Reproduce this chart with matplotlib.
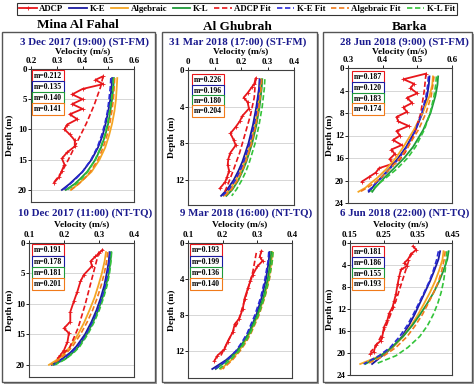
import matplotlib
matplotlib.use("Agg")
import matplotlib.pyplot as plt
from matplotlib.patches import Rectangle

plt.rcParams['font.family'] = ['Liberation Serif', 'DejaVu Serif']
plt.rcParams['font.weight'] = 'bold'

W, H = 474, 384

# ---------------- data ----------------
series_names = ["ADCP", "K-E", "Algebraic", "K-L", "ADCP Fit", "K-E Fit", "Algebraic Fit", "K-L Fit"]
column_titles = ["Mina Al Fahal", "Al Ghubrah", "Barka"]
panel_titles = ["3 Dec 2017 (19:00) (ST-FM)", "31 Mar 2018 (17:00) (ST-FM)", "28 Jun 2018 (9:00) (ST-FM)",
                "10 Dec 2017 (11:00) (NT-TQ)", "9 Mar 2018 (16:00) (NT-TQ)", "6 Jun 2018 (22:00) (NT-TQ)"]
m_values = [["0.212", "0.135", "0.140", "0.141"],
            ["0.226", "0.196", "0.180", "0.204"],
            ["0.187", "0.120", "0.183", "0.174"],
            ["0.191", "0.178", "0.181", "0.201"],
            ["0.193", "0.199", "0.136", "0.140"],
            ["0.181", "0.186", "0.155", "0.193"]]

# Panel 1: Mina Al Fahal, 3 Dec 2017
p1_adcp_d = [1.2, 1.8, 2.5, 3.3, 4.2, 5.0, 5.8, 6.6, 7.5, 8.3, 9.2, 10.0, 10.8, 11.8, 12.8, 13.8, 14.8, 15.8, 16.8, 17.8, 18.8]
p1_adcp_v = [0.48, 0.45, 0.48, 0.40, 0.36, 0.40, 0.36, 0.40, 0.35, 0.38, 0.34, 0.33, 0.35, 0.37, 0.37, 0.34, 0.32, 0.33, 0.32, 0.31, 0.29]
p1_fit_d = [1.2, 3, 6, 9, 12, 15, 17, 19]
p1_fit_v = [0.48, 0.47, 0.445, 0.415, 0.38, 0.345, 0.32, 0.285]
p1_mod_d = [1.5, 3, 5, 7, 9, 11, 13, 15, 17, 18, 19, 20]
p1_ke = [0.515, 0.513, 0.508, 0.50, 0.49, 0.478, 0.46, 0.435, 0.40, 0.375, 0.35, 0.32]
p1_alg = [0.535, 0.533, 0.53, 0.524, 0.515, 0.503, 0.488, 0.466, 0.435, 0.41, 0.385, 0.355]
p1_kl = [0.522, 0.52, 0.515, 0.508, 0.50, 0.488, 0.472, 0.45, 0.418, 0.395, 0.37, 0.335]
p1_ke_fit = [0.51, 0.508, 0.503, 0.497, 0.487, 0.474, 0.457, 0.433, 0.40, 0.378, 0.352, 0.325]
p1_alg_fit = [0.525, 0.523, 0.52, 0.514, 0.506, 0.495, 0.48, 0.46, 0.43, 0.41, 0.385, 0.355]
p1_kl_fit = [0.52, 0.518, 0.512, 0.505, 0.497, 0.486, 0.47, 0.449, 0.42, 0.40, 0.375, 0.34]

# Panel 2: Al Ghubrah, 31 Mar 2018
p2_adcp_d = [0.9, 1.5, 1.9, 2.5, 3.0, 3.5, 4.2, 5.0, 5.6, 6.2, 6.9, 7.6, 8.2, 9.0, 9.7, 10.3, 11.0, 11.6, 12.2, 12.9]
p2_adcp_v = [0.256, 0.25, 0.24, 0.225, 0.21, 0.225, 0.23, 0.205, 0.195, 0.18, 0.16, 0.172, 0.18, 0.16, 0.152, 0.15, 0.155, 0.148, 0.14, 0.12]
p2_fit_d = [1.0, 3, 5, 7, 9, 11, 12.5, 13.5]
p2_fit_v = [0.255, 0.25, 0.235, 0.215, 0.195, 0.17, 0.15, 0.135]
p2_mod_d = [1.0, 2, 4, 6, 8, 10, 11, 12, 13, 13.7]
p2_ke = [0.27, 0.268, 0.258, 0.245, 0.228, 0.205, 0.19, 0.172, 0.148, 0.125]
p2_alg = [0.275, 0.273, 0.265, 0.253, 0.236, 0.213, 0.198, 0.18, 0.158, 0.135]
p2_kl = [0.28, 0.278, 0.27, 0.258, 0.242, 0.22, 0.206, 0.19, 0.168, 0.145]
p2_ke_fit = [0.272, 0.27, 0.262, 0.25, 0.233, 0.21, 0.196, 0.178, 0.155, 0.13]
p2_alg_fit = [0.278, 0.276, 0.268, 0.256, 0.24, 0.218, 0.204, 0.187, 0.165, 0.14]
p2_kl_fit = [0.29, 0.288, 0.28, 0.268, 0.253, 0.232, 0.219, 0.203, 0.183, 0.165]

# Panel 3: Barka, 28 Jun 2018
p3_adcp_d = [1, 2, 2.8, 3.6, 4.5, 5.3, 6.2, 7.0, 7.8, 8.7, 9.5, 10.3, 11.2, 12.0, 12.8, 13.7, 14.5, 15.3, 16.2, 17.0, 17.8, 18.6, 19.4, 20.2]
p3_adcp_v = [0.525, 0.46, 0.49, 0.48, 0.50, 0.47, 0.485, 0.46, 0.47, 0.44, 0.445, 0.475, 0.44, 0.45, 0.43, 0.455, 0.425, 0.435, 0.42, 0.43, 0.39, 0.38, 0.36, 0.34]
p3_fit_d = [1, 4, 8, 12, 15, 17]
p3_fit_v = [0.525, 0.52, 0.51, 0.49, 0.465, 0.44]
p3_mod_d = [1.5, 3, 5, 8, 11, 14, 16, 18, 19.5, 20.5, 21.3, 22]
p3_ke = [0.535, 0.533, 0.528, 0.515, 0.495, 0.468, 0.445, 0.418, 0.395, 0.38, 0.37, 0.36]
p3_alg = [0.545, 0.543, 0.535, 0.515, 0.49, 0.46, 0.438, 0.41, 0.385, 0.365, 0.35, 0.33]
p3_kl = [0.56, 0.558, 0.552, 0.538, 0.517, 0.488, 0.462, 0.43, 0.405, 0.39, 0.378, 0.37]
p3_ke_fit = [0.532, 0.53, 0.525, 0.513, 0.495, 0.47, 0.448, 0.42, 0.397, 0.38, 0.368, 0.355]
p3_alg_fit = [0.548, 0.545, 0.54, 0.525, 0.503, 0.473, 0.45, 0.42, 0.395, 0.375, 0.355, 0.335]
p3_kl_fit = [0.555, 0.553, 0.548, 0.537, 0.52, 0.495, 0.472, 0.44, 0.41, 0.39, 0.375, 0.365]

# Panel 4: Mina Al Fahal, 10 Dec 2017
p4_adcp_d = [1.1, 1.7, 2.2, 3.0, 3.8, 5.2, 6.3, 8.0, 9.6, 11.3, 12.9, 14.0, 14.8, 16.2, 17.6, 18.4, 19.5]
p4_adcp_v = [0.31, 0.30, 0.29, 0.276, 0.28, 0.257, 0.247, 0.238, 0.228, 0.218, 0.218, 0.20, 0.214, 0.21, 0.20, 0.19, 0.176]
p4_fit_d = [1.4, 5.8, 10.2, 14.0, 17.3, 19.0]
p4_fit_v = [0.30, 0.28, 0.26, 0.24, 0.215, 0.18]
p4_mod_d = [1.5, 3, 5, 7, 9, 11, 13, 15, 17, 18, 19, 20]
p4_ke = [0.33, 0.328, 0.322, 0.315, 0.305, 0.293, 0.278, 0.26, 0.235, 0.218, 0.195, 0.165]
p4_alg = [0.32, 0.316, 0.308, 0.298, 0.287, 0.273, 0.258, 0.24, 0.218, 0.203, 0.185, 0.157]
p4_kl = [0.335, 0.333, 0.328, 0.32, 0.31, 0.298, 0.283, 0.265, 0.242, 0.225, 0.205, 0.17]
p4_ke_fit = [0.332, 0.33, 0.325, 0.318, 0.309, 0.297, 0.282, 0.264, 0.24, 0.222, 0.20, 0.172]
p4_alg_fit = [0.325, 0.322, 0.315, 0.306, 0.295, 0.282, 0.266, 0.247, 0.224, 0.208, 0.19, 0.163]
p4_kl_fit = [0.336, 0.334, 0.33, 0.323, 0.313, 0.301, 0.286, 0.268, 0.245, 0.228, 0.206, 0.175]

# Panel 5: Al Ghubrah, 9 Mar 2018
p5_adcp_d = [0.9, 1.5, 2.0, 2.6, 3.5, 4.2, 5.0, 6.2, 7.3, 8.4, 9.0, 9.9, 11.0, 11.8, 12.5, 13.1]
p5_adcp_v = [0.312, 0.307, 0.315, 0.30, 0.287, 0.28, 0.273, 0.263, 0.258, 0.248, 0.235, 0.229, 0.214, 0.205, 0.185, 0.176]
p5_fit_d = [1.1, 3.2, 5.8, 8.8, 11.0, 12.5]
p5_fit_v = [0.297, 0.287, 0.268, 0.244, 0.214, 0.195]
p5_mod_d = [1, 2, 4, 6, 8, 10, 11, 12, 13, 14]
p5_ke = [0.335, 0.333, 0.325, 0.313, 0.297, 0.275, 0.26, 0.24, 0.21, 0.17]
p5_alg = [0.343, 0.341, 0.333, 0.32, 0.302, 0.279, 0.264, 0.247, 0.225, 0.195]
p5_kl = [0.34, 0.338, 0.33, 0.318, 0.30, 0.276, 0.26, 0.242, 0.215, 0.18]
p5_ke_fit = [0.333, 0.331, 0.322, 0.31, 0.293, 0.271, 0.256, 0.238, 0.213, 0.178]
p5_alg_fit = [0.345, 0.343, 0.335, 0.322, 0.305, 0.282, 0.268, 0.25, 0.228, 0.20]
p5_kl_fit = [0.345, 0.343, 0.334, 0.321, 0.303, 0.28, 0.265, 0.247, 0.222, 0.19]

# Panel 6: Barka, 6 Jun 2018
p6_adcp_d = [0.6, 1.2, 2.0, 3.0, 3.6, 4.2, 4.8, 6.0, 7.5, 9.3, 10.5, 11.7, 12.8, 14.0, 15.3, 17.0, 17.8, 18.6, 19.8, 20.1]
p6_adcp_v = [0.335, 0.345, 0.33, 0.32, 0.31, 0.318, 0.30, 0.295, 0.29, 0.285, 0.28, 0.275, 0.265, 0.26, 0.25, 0.245, 0.24, 0.225, 0.22, 0.21]
p6_fit_d = [1.8, 5.7, 10.5, 15.3, 18.9, 19.8]
p6_fit_v = [0.33, 0.31, 0.285, 0.255, 0.225, 0.21]
p6_mod_d = [1.5, 3, 5, 7, 9, 11, 13, 15, 17, 19, 20.5, 22]
p6_ke = [0.415, 0.41, 0.398, 0.385, 0.37, 0.355, 0.34, 0.323, 0.303, 0.275, 0.245, 0.215]
p6_alg = [0.425, 0.422, 0.412, 0.40, 0.385, 0.368, 0.35, 0.33, 0.306, 0.275, 0.24, 0.18]
p6_kl = [0.44, 0.436, 0.425, 0.412, 0.396, 0.377, 0.356, 0.333, 0.306, 0.272, 0.24, 0.195]
p6_ke_fit = [0.41, 0.405, 0.395, 0.383, 0.368, 0.352, 0.336, 0.318, 0.296, 0.268, 0.235, 0.19]
p6_alg_fit = [0.43, 0.427, 0.42, 0.41, 0.396, 0.38, 0.363, 0.342, 0.318, 0.285, 0.25, 0.20]
p6_kl_fit = [0.435, 0.433, 0.43, 0.425, 0.418, 0.408, 0.395, 0.378, 0.355, 0.32, 0.285, 0.225]

x_ticks = [[0.2, 0.3, 0.4, 0.5, 0.6], [0, 0.1, 0.2, 0.3, 0.4], [0.3, 0.4, 0.5, 0.6],
           [0.1, 0.2, 0.3, 0.4], [0.1, 0.2, 0.3, 0.4], [0.15, 0.25, 0.35, 0.45]]
y_ticks = [[0, 5, 10, 15, 20], [0, 4, 8, 12], [0, 4, 8, 12, 16, 20, 24],
           [0, 5, 10, 15, 20], [0, 4, 8, 12], [0, 4, 8, 12, 16, 20, 24]]

panels = [
    (p1_adcp_d, p1_adcp_v, p1_fit_d, p1_fit_v, p1_mod_d, p1_ke, p1_alg, p1_kl, p1_ke_fit, p1_alg_fit, p1_kl_fit),
    (p2_adcp_d, p2_adcp_v, p2_fit_d, p2_fit_v, p2_mod_d, p2_ke, p2_alg, p2_kl, p2_ke_fit, p2_alg_fit, p2_kl_fit),
    (p3_adcp_d, p3_adcp_v, p3_fit_d, p3_fit_v, p3_mod_d, p3_ke, p3_alg, p3_kl, p3_ke_fit, p3_alg_fit, p3_kl_fit),
    (p4_adcp_d, p4_adcp_v, p4_fit_d, p4_fit_v, p4_mod_d, p4_ke, p4_alg, p4_kl, p4_ke_fit, p4_alg_fit, p4_kl_fit),
    (p5_adcp_d, p5_adcp_v, p5_fit_d, p5_fit_v, p5_mod_d, p5_ke, p5_alg, p5_kl, p5_ke_fit, p5_alg_fit, p5_kl_fit),
    (p6_adcp_d, p6_adcp_v, p6_fit_d, p6_fit_v, p6_mod_d, p6_ke, p6_alg, p6_kl, p6_ke_fit, p6_alg_fit, p6_kl_fit),
]

# ---------------- layout / style ----------------
C_ADCP = '#e8161b'
C_KE = '#1a1aa0'
C_ALG = '#f5a623'
C_KL = '#1f9a3a'
C_KE_FIT = '#2a2ad8'
C_ALG_FIT = '#f07a1a'
C_KL_FIT = '#33c43a'
TITLE_C = '#1a1a8e'
DASH = (0, (3.2, 1.6))

# axes pixel boxes (left, top, right, bottom)
ax_px = [(31, 69, 134, 202), (188, 70, 294, 205), (348, 68, 452, 203),
         (29, 243, 134, 377), (188, 243, 292, 378), (350, 243, 452, 375)]
ylims = [22, 14.7, 24, 22, 15, 24]
xlims = [(0.2, 0.6), (0, 0.4), (0.3, 0.6), (0.1, 0.4), (0.1, 0.4), (0.15, 0.45)]
title_xy = [(84, 42), (238, 42), (404, 42), (85, 213), (246, 213), (405, 213)]
vel_y = [52, 52, 52, 225, 225, 225]
ylab_x = [10, 172, 330, 10, 172, 330]
mbox = [(32, [76, 87, 98, 109]), (192, [80, 91, 101, 111]), (352, [77, 88, 99, 109]),
        (32, [250, 262, 273, 284]), (190, [250, 262, 273, 284]), (352, [252, 263, 274, 284])]

fig = plt.figure(figsize=(W / 100, H / 100), dpi=100)
fig.patch.set_facecolor('white')

def fx(x):
    return x / W

def fy(y):
    return 1 - y / H

# column boxes with shadow
for (x0, x1) in [(2, 155), (162, 317), (323, 472)]:
    fig.patches.append(Rectangle((fx(x0 + 2), fy(384)), fx(x1 - x0), fy(34) - fy(384),
                                 transform=fig.transFigure, facecolor='#9a9a9a', edgecolor='none', zorder=0))
    fig.patches.append(Rectangle((fx(x0), fy(382)), fx(x1 - x0), fy(32) - fy(382),
                                 transform=fig.transFigure, facecolor='white', edgecolor='#555555', lw=1.0, zorder=0.5))

for i, (cx, cy) in enumerate([(78, 25), (237, 27), (409, 27)]):
    fig.text(fx(cx), fy(cy), column_titles[i], ha='center', va='center', fontsize=9.5, fontweight='bold')

handles = None
for i, p in enumerate(panels):
    adcp_d, adcp_v, fit_d, fit_v, mod_d, ke, alg, kl, ke_fit, alg_fit, kl_fit = p
    l, t, r, b = ax_px[i]
    ax = fig.add_axes([fx(l), fy(b), fx(r - l), fy(t) - fy(b)])
    ax.set_zorder(2)
    h1, = ax.plot(adcp_v, adcp_d, color=C_ADCP, lw=1.3, marker='+', ms=2.5, mew=0.6)
    h2, = ax.plot(ke, mod_d, color=C_KE, lw=1.3)
    h3, = ax.plot(alg, mod_d, color=C_ALG, lw=1.3)
    h4, = ax.plot(kl, mod_d, color=C_KL, lw=1.3)
    h5, = ax.plot(fit_v, fit_d, color=C_ADCP, lw=1.2, ls=DASH)
    h6, = ax.plot(ke_fit, mod_d, color=C_KE_FIT, lw=1.2, ls=DASH)
    h7, = ax.plot(alg_fit, mod_d, color=C_ALG_FIT, lw=1.2, ls=DASH)
    h8, = ax.plot(kl_fit, mod_d, color=C_KL_FIT, lw=1.2, ls=DASH)
    if handles is None:
        handles = [h1, h2, h3, h4, h5, h6, h7, h8]
    ax.set_xlim(*xlims[i])
    ax.set_ylim(ylims[i], 0)
    ax.set_xticks(x_ticks[i])
    ax.set_xticklabels([f"{v:g}" for v in x_ticks[i]])
    ax.set_yticks(y_ticks[i])
    ax.xaxis.tick_top()
    ax.tick_params(axis='both', labelsize=6.5, length=2, width=0.6, pad=1)
    for lab in ax.get_xticklabels() + ax.get_yticklabels():
        lab.set_fontweight('bold')
    ax.grid(axis='y', color='#d0d0d0', lw=0.6)
    ax.set_axisbelow(True)
    for s in ax.spines.values():
        s.set_color('#404040')
        s.set_linewidth(0.8)
    fig.text(fx(title_xy[i][0]), fy(title_xy[i][1]), panel_titles[i], ha='center', va='center',
             fontsize=7.8, fontweight='bold', color=TITLE_C)
    fig.text(fx((l + r) / 2), fy(vel_y[i]), "Velocity (m/s)", ha='center', va='center',
             fontsize=6.8, fontweight='bold')
    fig.text(fx(ylab_x[i]), fy((t + b) / 2), "Depth (m)", ha='center', va='center', rotation=90,
             fontsize=6.8, fontweight='bold')
    bx, bys = mbox[i]
    for j, col in enumerate([C_ADCP, C_KE, C_KL, C_ALG_FIT]):
        fig.text(fx(bx + 2), fy(bys[j]), "m=" + m_values[i][j], ha='left', va='center', fontsize=5.6,
                 fontweight='bold', zorder=5,
                 bbox=dict(boxstyle='square,pad=0.2', fc='white', ec=col, lw=0.8))

leg = fig.legend(handles, series_names, loc='center', bbox_to_anchor=(fx(237), fy(9)), ncol=8,
                 fontsize=6.3, frameon=True, fancybox=False, edgecolor='black', handlelength=2.0,
                 handletextpad=0.3, columnspacing=0.65, borderpad=0.25, borderaxespad=0)
leg.get_frame().set_linewidth(0.8)
for txt in leg.get_texts():
    txt.set_fontweight('bold')

fig.savefig('out.png', dpi=100, facecolor='white')
